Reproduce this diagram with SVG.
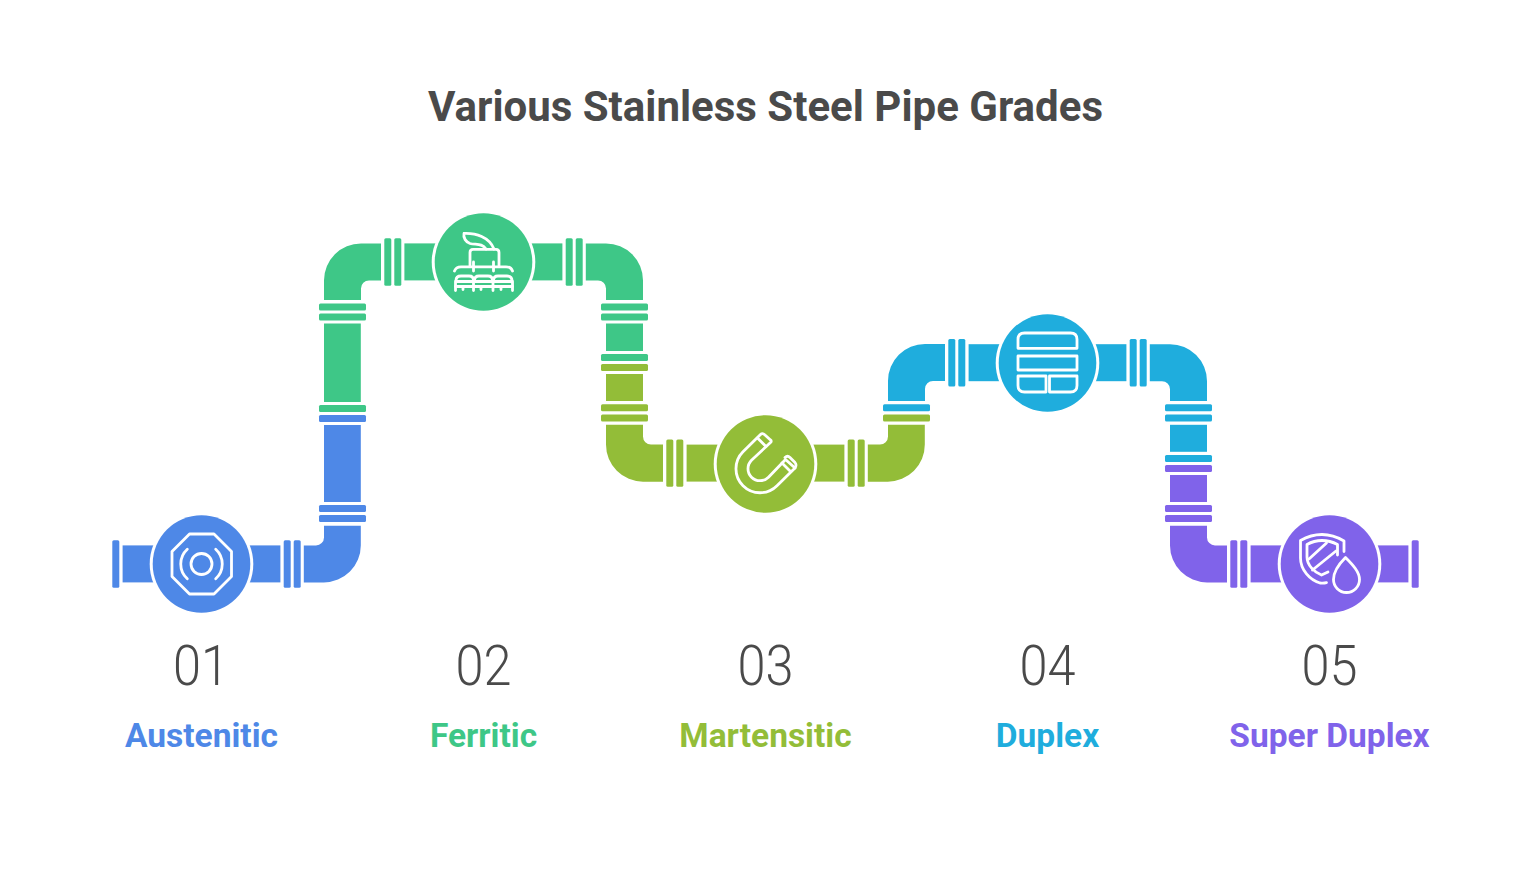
<svg xmlns="http://www.w3.org/2000/svg" width="1536" height="869" viewBox="0 0 1536 869">
<style>
.b{fill:#4E88E7}.g{fill:#3EC787}.o{fill:#93BD38}.c{fill:#1FADDD}.p{fill:#8063EA}
.ring{fill:#fff}
.ic{fill:none;stroke:#fff;stroke-width:2.8;stroke-linecap:round;stroke-linejoin:round}
text{font-family:Roboto,"Liberation Sans",sans-serif;text-anchor:middle}
.t{font-size:42px;font-weight:700;fill:#4A4A4A}
.n{font-size:56px;font-weight:300;fill:#4A4A4A}
.l{font-size:33.500px;font-weight:700}
</style>
<rect width="1536" height="869" fill="#fff"/>
<text class="t" x="765.500" y="120.500">Various Stainless Steel Pipe Grades</text>
<g id="connectors">
<g class="b">
<rect x="112.300" y="540.300" width="7" height="47.400" rx="1.500"/>
<rect x="122.600" y="545.400" width="40" height="37"/>
<rect x="240" y="545.400" width="40.400" height="37"/>
<rect x="283.700" y="540.300" width="7" height="47.400" rx="1.500"/>
<rect x="293.700" y="540.300" width="7" height="47.400" rx="1.500"/>
<path d="M303.800 582.400V545.400H316A8 8 0 0 0 324 537.400V525.700H360.800V545.400A37 37 0 0 1 323.800 582.400Z"/>
<rect x="319" y="505" width="47" height="7" rx="1.500"/>
<rect x="319" y="515" width="47" height="7" rx="1.500"/>
<rect x="324" y="425" width="36.800" height="77"/>
<rect x="319" y="415" width="47" height="7" rx="1.500"/>
</g>
<g class="g">
<rect x="319" y="405" width="47" height="7" rx="1.500"/>
<rect x="324" y="323.500" width="36.800" height="78.500"/>
<rect x="319" y="303.500" width="47" height="7" rx="1.500"/>
<rect x="319" y="313.500" width="47" height="7" rx="1.500"/>
<path d="M324 300V280.300A37 37 0 0 1 361 243.400H381V280.400H369A8 8 0 0 0 361 288.400V300Z"/>
<rect x="384.300" y="238.300" width="7" height="47.400" rx="1.500"/>
<rect x="394.300" y="238.300" width="7" height="47.400" rx="1.500"/>
<rect x="404.400" y="243.400" width="40" height="37"/>
<rect x="522" y="243.400" width="40.400" height="37"/>
<rect x="565.700" y="238.300" width="7" height="47.400" rx="1.500"/>
<rect x="575.700" y="238.300" width="7" height="47.400" rx="1.500"/>
<path d="M585.800 243.400H606A37 37 0 0 1 643 280.400V300H606V288.400A8 8 0 0 0 598 280.400H585.800Z"/>
<rect x="601" y="303.500" width="47" height="7" rx="1.500"/>
<rect x="601" y="313.500" width="47" height="7" rx="1.500"/>
<rect x="606" y="323.500" width="37" height="27.500"/>
<rect x="601" y="354" width="47" height="7" rx="1.500"/>
</g>
<g class="o">
<rect x="601" y="364" width="47" height="7" rx="1.500"/>
<rect x="606" y="374" width="37" height="27"/>
<rect x="601" y="404.300" width="47" height="7" rx="1.500"/>
<rect x="601" y="414.600" width="47" height="7" rx="1.500"/>
<path d="M606 424.800H643V436.600A8 8 0 0 0 651 444.600H663V481.700H643A37 37 0 0 1 606 444.600Z"/>
<rect x="666.300" y="439.400" width="7" height="47.400" rx="1.500"/>
<rect x="676.300" y="439.400" width="7" height="47.400" rx="1.500"/>
<rect x="686.600" y="444.600" width="40" height="37"/>
<rect x="804" y="444.600" width="40.400" height="37"/>
<rect x="847.700" y="439.400" width="7" height="47.400" rx="1.500"/>
<rect x="857.700" y="439.400" width="7" height="47.400" rx="1.500"/>
<path d="M867.800 444.600H880A8 8 0 0 0 888 436.600V424.800H924.800V444.600A37 37 0 0 1 887.800 481.700H867.800Z"/>
<rect x="883" y="414.600" width="47" height="7" rx="1.500"/>
</g>
<g class="c">
<rect x="883" y="404.300" width="47" height="7" rx="1.500"/>
<path d="M888 401V381A37 37 0 0 1 925 344H945V381H933A8 8 0 0 0 925 389V401Z"/>
<rect x="948.300" y="339" width="7" height="47.400" rx="1.500"/>
<rect x="958.300" y="339" width="7" height="47.400" rx="1.500"/>
<rect x="968.600" y="344.200" width="40" height="37"/>
<rect x="1086" y="344.200" width="40.400" height="37"/>
<rect x="1129.700" y="339" width="7" height="47.400" rx="1.500"/>
<rect x="1139.700" y="339" width="7" height="47.400" rx="1.500"/>
<path d="M1149.800 344.200H1170A37 37 0 0 1 1207 381.200V401H1170V389.200A8 8 0 0 0 1162 381.200H1149.800Z"/>
<rect x="1165" y="404.300" width="47" height="7" rx="1.500"/>
<rect x="1165" y="414.600" width="47" height="7" rx="1.500"/>
<rect x="1170" y="424.800" width="37" height="27"/>
<rect x="1165" y="455" width="47" height="7" rx="1.500"/>
</g>
<g class="p">
<rect x="1165" y="465" width="47" height="7" rx="1.500"/>
<rect x="1170" y="475" width="37" height="27"/>
<rect x="1165" y="505" width="47" height="7" rx="1.500"/>
<rect x="1165" y="515" width="47" height="7" rx="1.500"/>
<path d="M1170 525.700H1207V537.400A8 8 0 0 0 1215 545.400H1227V582.400H1207A37 37 0 0 1 1170 545.400Z"/>
<rect x="1230.300" y="540.300" width="7" height="47.400" rx="1.500"/>
<rect x="1240.300" y="540.300" width="7" height="47.400" rx="1.500"/>
<rect x="1250.600" y="545.400" width="40" height="37"/>
<rect x="1368" y="545.400" width="40.400" height="37"/>
<rect x="1411.700" y="540.300" width="7" height="47.400" rx="1.500"/>
</g>
</g>
<g id="node-01">
<circle class="ring" cx="201.500" cy="564" r="51.800"/>
<circle class="b" cx="201.500" cy="564" r="48.800"/>
<g class="ic">
<path d="M189.500 534H214L231.500 551.500V576.500L214 594H189.500L172 576.500V551.500Z"/>
<circle cx="201.500" cy="564" r="10.500"/>
<path d="M187.300 549.200A20 20 0 0 0 187.300 578.800M215.700 549.200A20 20 0 0 1 215.700 578.800"/>
</g>
<text class="n" x="201" y="684.500" textLength="56" lengthAdjust="spacingAndGlyphs">01</text>
<text class="l b" x="201.500" y="746.500">Austenitic</text>
</g>
<g id="node-02">
<circle class="ring" cx="483.500" cy="262" r="51.800"/>
<circle class="g" cx="483.500" cy="262" r="48.800"/>
<g class="ic">
<path d="M464 233.500C476 233 489 237 494 249M464 233.500C463 238 466 242 470 243.500C476 245 482 243 486 249"/>
<path d="M470 266V252.500Q470 249.300 473 249.300H496Q499 249.300 499 252.500V266"/>
<path d="M454.500 271Q456 266.800 461 266.800H506Q511 266.800 512.500 271"/>
<path d="M473.500 262V271M493.500 262V271"/>
<path d="M456 280.500Q456 276 461 276H469Q473.500 276 473.500 280.500M474.500 280.500Q474.500 276 479 276H488Q492.500 276 492.500 280.500M493.500 280.500Q493.500 276 498 276H507Q512 276 512 280.500"/>
<path d="M455.500 281.500H512.500M455.500 286.500H512.500M455.500 281.500V286.500M473.500 281.500V286.500M493 281.500V286.500M512.500 281.500V286.500"/>
<path d="M455.500 286.500V290.500M463 286.500V289.500M473.500 286.500V290.500M481 286.500V289.500M493 286.500V290.500M501 286.500V289.500M512.500 286.500V290.500"/>
</g>
<text class="n" x="483.500" y="684.500" textLength="56" lengthAdjust="spacingAndGlyphs">02</text>
<text class="l g" x="483.500" y="746.500">Ferritic</text>
</g>
<g id="node-03">
<circle class="ring" cx="765.500" cy="464" r="51.800"/>
<circle class="o" cx="765.500" cy="464" r="48.800"/>
<g class="ic">
<path d="M760.500 434.500 743 451.700A24 24 0 0 0 777 485.700L795 468 785.500 459.500 768.500 477.200A12 12 0 0 1 751.500 460.200L770.500 442.500Q772 441 770.500 440L765 435Q762.500 432.500 760.500 434.500Z"/>
<path d="M757.500 438 766 446.500M782 463 790.500 471.500M785 457.500Q787.500 455 790 457.500L795 462.500Q797 465 795 468"/>
</g>
<text class="n" x="765.500" y="684.500" textLength="56" lengthAdjust="spacingAndGlyphs">03</text>
<text class="l o" x="765.500" y="746.500">Martensitic</text>
</g>
<g id="node-04">
<circle class="ring" cx="1047.500" cy="363" r="51.800"/>
<circle class="c" cx="1047.500" cy="363" r="48.800"/>
<g class="ic">
<path d="M1018 348.300V339.500Q1018 333 1024.500 333H1070.500Q1077 333 1077 339.500V348.300Z"/>
<rect x="1018" y="356" width="59" height="14"/>
<path d="M1018 376H1046V392H1024.500Q1018 392 1018 385.500ZM1049.500 376H1077V385.500Q1077 392 1070.500 392H1049.500Z"/>
</g>
<text class="n" x="1047.500" y="684.500" textLength="56" lengthAdjust="spacingAndGlyphs">04</text>
<text class="l c" x="1047.500" y="746.500">Duplex</text>
</g>
<g id="node-05">
<circle class="ring" cx="1329.500" cy="564" r="51.800"/>
<circle class="p" cx="1329.500" cy="564" r="48.800"/>
<g class="ic">
<path d="M1344 551.500V541Q1333 534.500 1322 534.500Q1311 534.500 1300.500 540.500V558C1300.500 570 1310 580 1320 583Q1323.500 583.500 1326.500 582.700"/>
<path d="M1337.500 555V544.500Q1330 540.500 1322 540.500Q1314 540.500 1307 544.500V557C1307 565 1314 572 1321.500 575L1328 572"/>
<path d="M1309 559 1326.500 543M1312.500 570 1336 551"/>
<path d="M1345.500 557.500C1338 565 1333.500 572 1333.500 579.500A13 13 0 0 0 1359.500 579.500C1359.500 572 1353 565 1345.500 557.500Z"/>
</g>
<text class="n" x="1329.500" y="684.500" textLength="56" lengthAdjust="spacingAndGlyphs">05</text>
<text class="l p" x="1329.500" y="746.500">Super Duplex</text>
</g>
</svg>
